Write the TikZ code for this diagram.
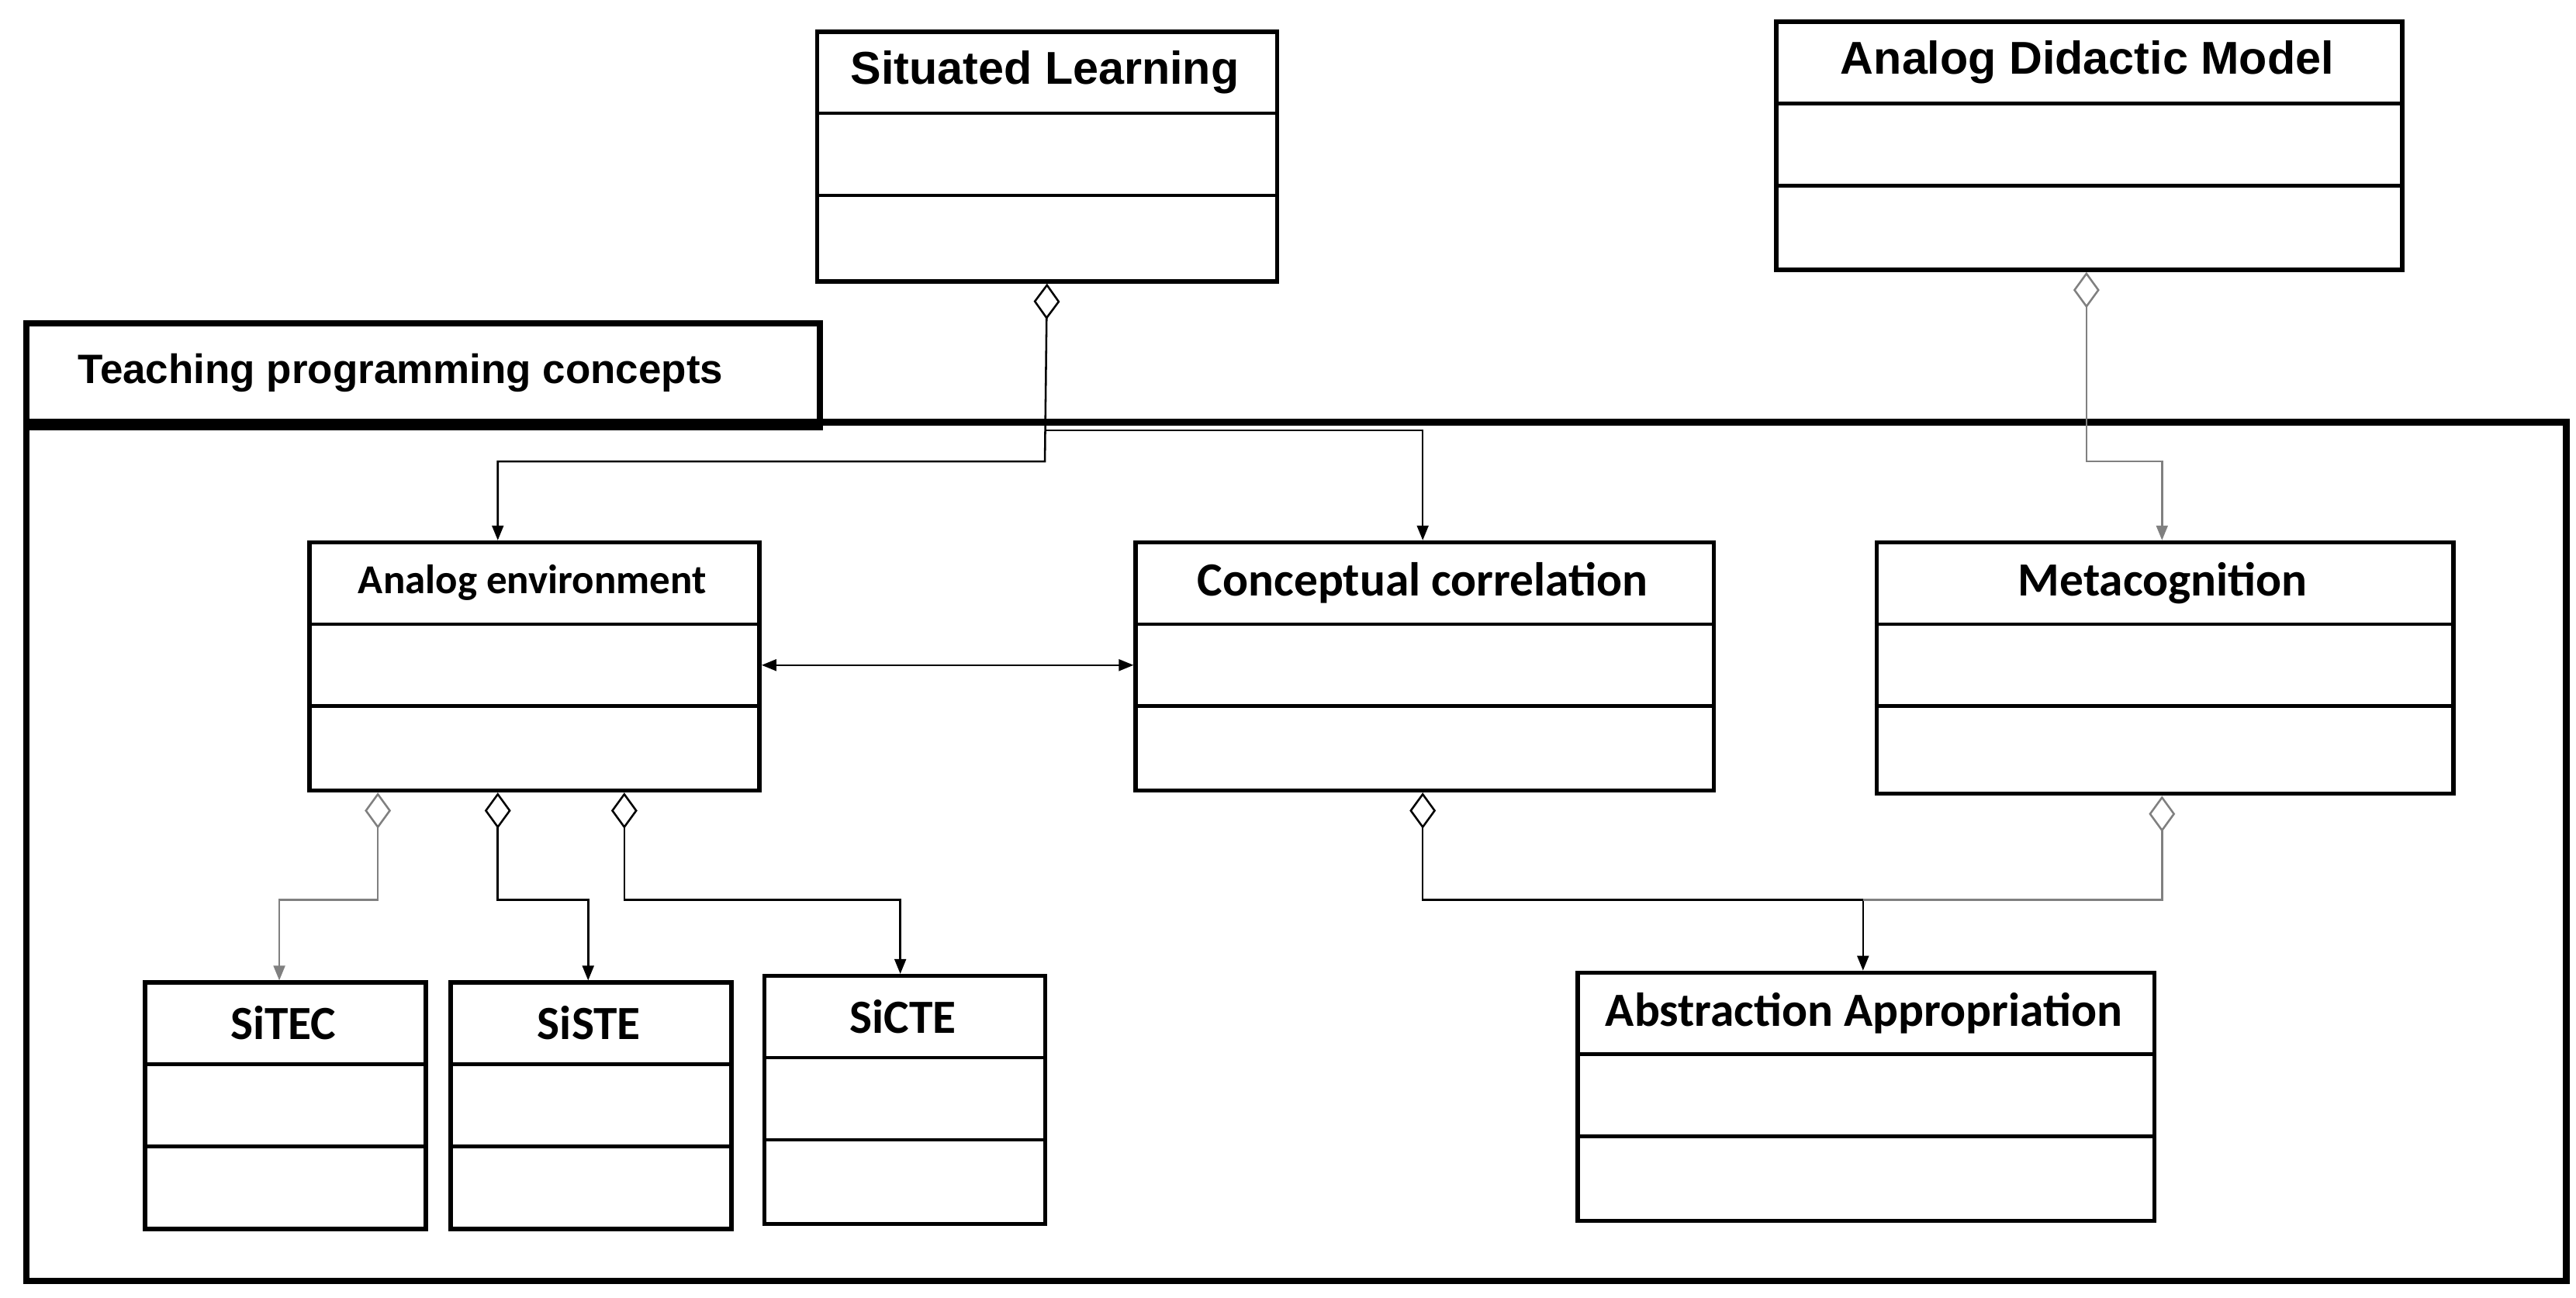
\documentclass[tikz,border=0pt]{standalone}
\usepackage{fontspec}
\setmainfont{Liberation Sans}
\newfontfamily\calfont{Carlito}
\usetikzlibrary{arrows.meta,calc}
\begin{document}
\begin{tikzpicture}[x=1pt,y=-1pt,
  box/.style={draw,line width=2.6pt,anchor=north west,inner sep=0pt},
  dv/.style={line width=2.2pt},
  con/.style={line width=1.2pt,-{Triangle[length=9pt,width=7pt]}},
  agg/.style={line width=1.2pt,{Diamond[open,length=22pt,width=16pt,line width=1.2pt]}-{Triangle[length=9pt,width=7pt]}},
  aggn/.style={line width=1.2pt,{Diamond[open,length=22pt,width=16pt,line width=1.2pt]}-},
  ttl/.style={font=\bfseries\fontsize{28}{30}\selectfont},
  ctl/.style={font=\calfont\bfseries\fontsize{29}{31}\selectfont}]
\useasboundingbox (0,0) rectangle (1568,790);
\newcommand\umlbox[7]{%
 \node[box,minimum width=#4-#2,minimum height=#5-#3] (#1) at (#2,#3) {};
 \draw[dv] (#2,#3+51) -- (#4,#3+51);
 \draw[dv] (#2,#3+101) -- (#4,#3+101);
 \node[#7] (#1t) at ({(#2+#4)/2},#3+26) {#6};}
% package
\node[box,line width=4pt,minimum width=1546,minimum height=523] (pkg) at (14,255) {};
\node[box,line width=4pt,minimum width=483,minimum height=63] (tab) at (14,195) {};
\node[font=\bfseries\fontsize{25}{27}\selectfont,anchor=west] (tabt) at (44,227) {Teaching programming concepts};
\umlbox{sl}{496}{18}{776}{170}{Situated Learning}{ttl}
\umlbox{adm}{1080}{12}{1461}{163}{Analog Didactic Model}{ttl}
\umlbox{ae}{187}{329}{461}{480}{Analog environment}{font=\calfont\bfseries\fontsize{25}{27}\selectfont}
\umlbox{cc}{690}{329}{1042}{480}{Conceptual correlation}{ctl}
\umlbox{mc}{1141}{329}{1492}{482}{Metacognition}{ctl}
\umlbox{s1}{87}{597}{258}{747}{SiTEC}{ctl}
\umlbox{s2}{273}{597}{444}{747}{SiSTE}{ctl}
\umlbox{s3}{464}{593}{635}{744}{SiCTE}{ctl}
\umlbox{aa}{959}{591}{1310}{742}{Abstraction Appropriation}{ctl}
% connectors top
\draw[agg] (sl.south) -- (636,281) -- (303,281) -- (ae.north -| 303,0);
\draw[con] (636,262) -- (866,262) -- (cc.north -| 866,0);
\draw[agg,gray] (adm.south -| 1270,0) -- (1270,281) -- (1316,281) -- (mc.north -| 1316,0);
\draw[line width=1.2pt,{Triangle[length=9pt,width=7pt]}-{Triangle[length=9pt,width=7pt]}] (ae.east |- 0,405) -- (cc.west |- 0,405);
% bottom
\draw[agg,gray] (ae.south -| 230,0) -- (230,548) -- (170,548) -- (s1.north -| 170,0);
\draw[agg] (ae.south -| 303,0) -- (303,548) -- (358,548) -- (s2.north -| 358,0);
\draw[agg] (ae.south -| 380,0) -- (380,548) -- (548,548) -- (s3.north -| 548,0);
\draw[agg] (cc.south -| 866,0) -- (866,548) -- (1134,548) -- (aa.north -| 1134,0);
\draw[aggn,gray] (mc.south -| 1316,0) -- (1316,548) -- (1134,548);
\end{tikzpicture}
\end{document}
